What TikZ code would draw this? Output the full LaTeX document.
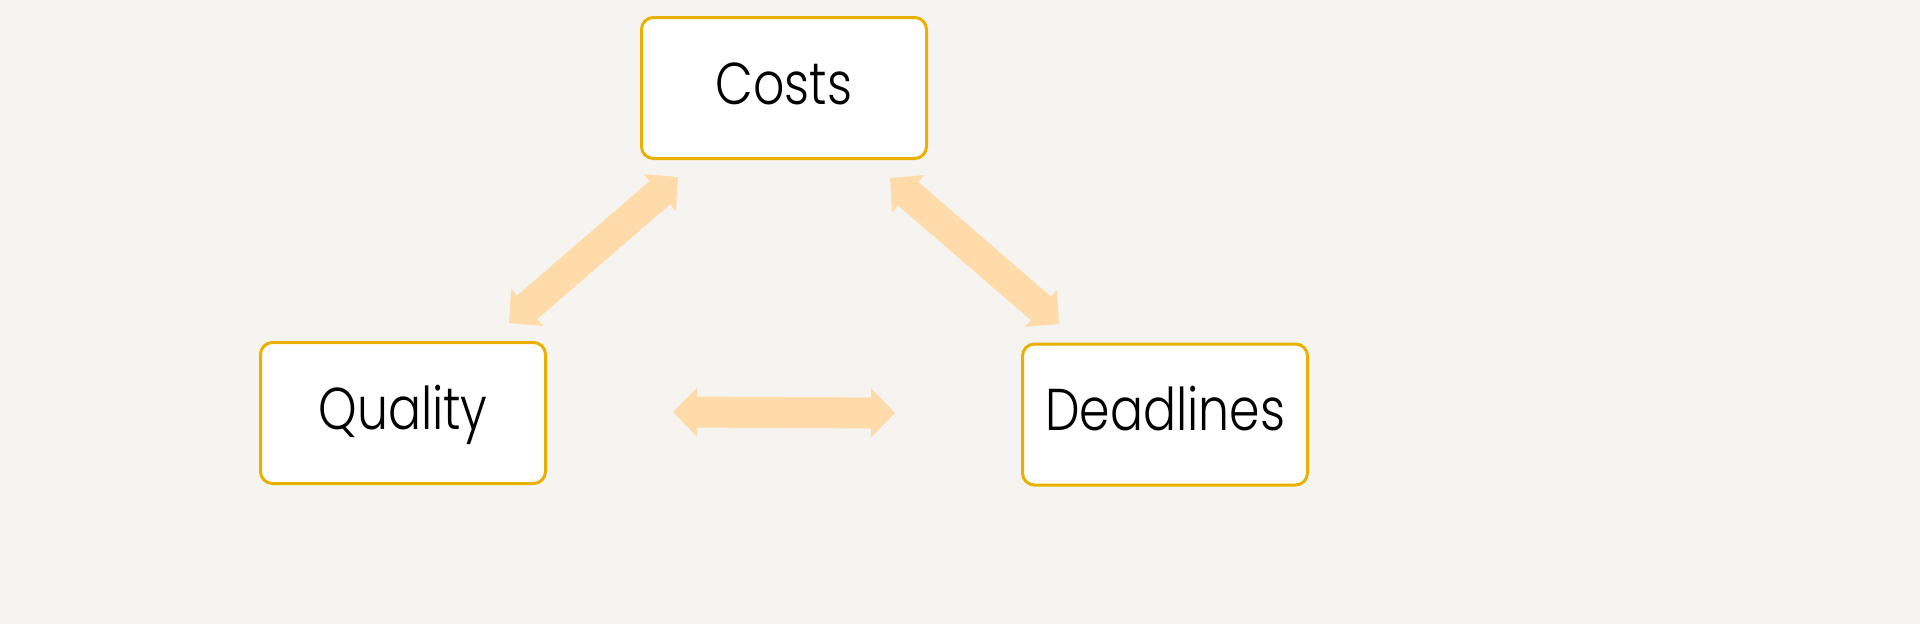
\documentclass[tikz,border=0pt]{standalone}
\usepackage{fontspec}
\setmainfont{Poppins Light}[FakeStretch=0.83]
\usetikzlibrary{calc}
\definecolor{bg}{HTML}{F5F4F0}
\definecolor{gold}{HTML}{E9B000}
\definecolor{arr}{HTML}{FFDBA9}
\newcommand\dblarrow[2]{%
 \fill[arr] (#1) -- ($(#1)!24pt!(#2)!24.5pt!90:(#2)$) -- ($(#1)!24pt!(#2)!15.5pt!90:(#2)$)
  -- ($(#2)!24pt!(#1)!15.5pt!-90:(#1)$) -- ($(#2)!24pt!(#1)!24.5pt!-90:(#1)$) -- (#2)
  -- ($(#2)!24pt!(#1)!24.5pt!90:(#1)$) -- ($(#2)!24pt!(#1)!15.5pt!90:(#1)$)
  -- ($(#1)!24pt!(#2)!15.5pt!-90:(#2)$) -- ($(#1)!24pt!(#2)!24.5pt!-90:(#2)$) -- cycle;}
\begin{document}
\begin{tikzpicture}[x=1pt,y=-1pt,
  box/.style={draw=gold, line width=3pt, fill=white, rounded corners=12pt,
    minimum width=285pt, minimum height=141pt, inner sep=0pt,
    text height=46pt, text depth=14pt, font=\fontsize{59}{68}\selectfont}]
\fill[bg] (0,0) rectangle (1920,624);
\useasboundingbox (0,0) rectangle (1920,624);
\node[box] (costs) at (784,88) {Costs};
\node[box] (quality) at (403,413) {Quality};
\node[box] (deadlines) at (1165,414.5) {Deadlines};
\coordinate (a1) at (678,177);
\coordinate (a2) at (509,323);
\coordinate (b1) at (890,178);
\coordinate (b2) at (1059,324);
\coordinate (c1) at (673,412);
\coordinate (c2) at (895,413);
\dblarrow{a1}{a2}
\dblarrow{b1}{b2}
\dblarrow{c1}{c2}
\end{tikzpicture}
\end{document}
